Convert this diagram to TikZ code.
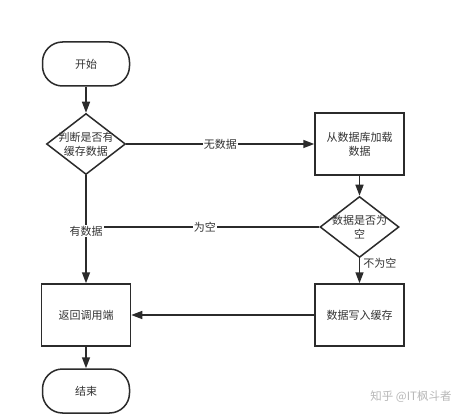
\documentclass[tikz,border=0pt]{standalone}
\usepackage{fontspec}
\setmainfont{Noto Sans CJK SC}
\usetikzlibrary{shapes.geometric,arrows.meta}
\definecolor{ln}{HTML}{2B2B2B}
\definecolor{tx}{HTML}{333333}
\begin{document}
\begin{tikzpicture}[x=1pt,y=-1pt,
  every node/.style={font=\fontsize{11pt}{14pt}\selectfont,text=tx},
  term/.style={draw=ln,line width=1.5pt,rounded corners=20pt,minimum width=87pt,minimum height=44pt,inner sep=0pt},
  boxx/.style={draw=ln,line width=1.5pt,minimum width=89pt,minimum height=62pt,inner sep=0pt,align=center},
  dia/.style={draw=ln,line width=1.5pt,diamond,minimum width=79pt,minimum height=61pt,inner sep=0pt},
  conn/.style={draw=ln,line width=1.5pt},
  arr/.style={conn,-{Triangle[length=11pt,width=8pt]}},
  lab/.style={fill=white,inner sep=1pt}]
\useasboundingbox[fill=white] (0,0) rectangle (474,417);
\node[term] (start) at (86,64) {开始};
\node[dia,label={[align=center,text=tx]center:判断是否有\\缓存数据}] (d1) at (86,144) {};
\node[boxx] (load) at (359.5,144) {从数据库加载\\数据};
\node[dia,label={[align=center,text=tx]center:数据是否为\\空}] (d2) at (359.5,227) {};
\node[boxx] (write) at (359.5,315) {数据写入缓存};
\node[boxx] (ret) at (86,315) {返回调用端};
\node[term] (end) at (86,391) {结束};
\coordinate (j) at (86,227);
\draw[arr] (start) -- (d1);
\draw[arr] (d1.east) -- node[lab]{无数据} (load.west);
\draw[arr] (load) -- (d2);
\draw[conn] (d2.west) -- node[lab,pos=0.49]{为空} (j);
\draw[arr] (d1.south) -- node[lab,pos=0.52]{有数据} (ret.north);
\draw[arr] (d2.south) -- node[right,pos=0.2,inner sep=3pt]{不为空} (write.north);
\draw[arr] (write.west) -- (ret.east);
\draw[arr] (ret) -- (end);
\node[text=black!28,font=\fontsize{11.5pt}{14pt}\selectfont] (wm) at (411,397) {知乎 @IT枫斗者};
\end{tikzpicture}
\end{document}
